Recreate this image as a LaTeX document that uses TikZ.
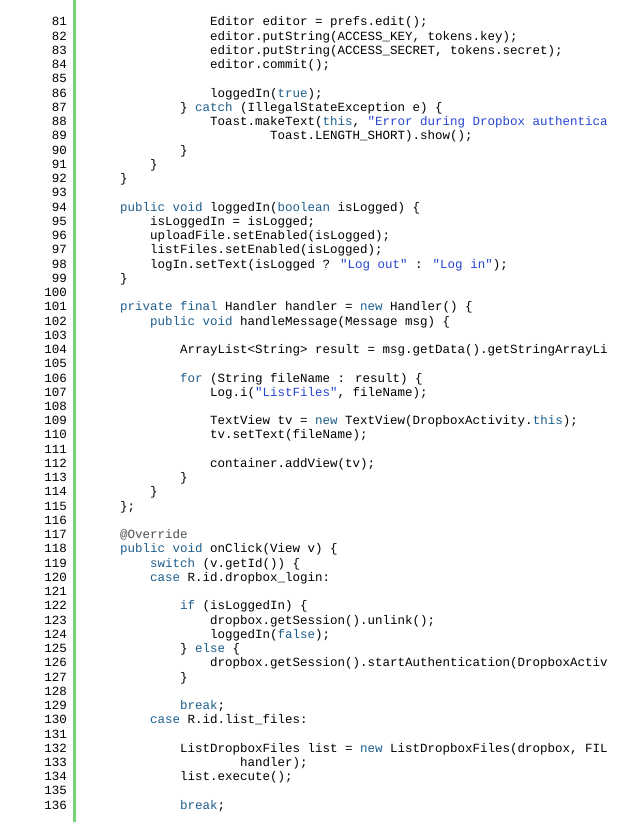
\documentclass[tikz,border=0pt]{standalone}
\usepackage{fontspec}
\newfontfamily\codefont{Liberation Mono}
\definecolor{kwc}{RGB}{30,95,140}
\definecolor{stc}{RGB}{40,70,210}
\definecolor{barc}{RGB}{120,210,120}
\definecolor{anc}{RGB}{80,80,80}
\newcommand{\kw}[1]{\textcolor{kwc}{#1}}
\newcommand{\st}[1]{\textcolor{stc}{#1}}
\tikzset{codeline/.style={anchor=base west,inner sep=0pt,font=\codefont\fontsize{12.5}{14}\selectfont},
  numline/.style={anchor=base east,inner sep=0pt,font=\codefont\fontsize{12.5}{14}\selectfont}}
\newcommand{\cl}[3]{\node[codeline] (c#1) at ({60+#2*7.5},{26+(#1-81)*14.24}) {#3};}
\begin{document}
\begin{tikzpicture}[x=1pt,y=-1pt]
\useasboundingbox (0,0) rectangle (638,826);
\clip (0,0) rectangle (638,826);
\fill[white] (0,0) rectangle (638,826);
\fill[barc] (73,0) rectangle (76,822);
\foreach \n in {81,...,136} {\node[numline] (n\n) at (67,{26+(\n-81)*14.24}) {\n};}
\cl{81}{20}{Editor editor = prefs.edit();}
\cl{82}{20}{editor.putString(ACCESS\_KEY, tokens.key);}
\cl{83}{20}{editor.putString(ACCESS\_SECRET, tokens.secret);}
\cl{84}{20}{editor.commit();}
\cl{86}{20}{loggedIn(\kw{true});}
\cl{87}{16}{\} \kw{catch} (IllegalStateException e) \{}
\cl{88}{20}{Toast.makeText(\kw{this}, \st{"Error during Dropbox authentica}}
\cl{89}{28}{Toast.LENGTH\_SHORT).show();}
\cl{90}{16}{\}}
\cl{91}{12}{\}}
\cl{92}{8}{\}}
\cl{94}{8}{\kw{public} \kw{void} loggedIn(\kw{boolean} isLogged) \{}
\cl{95}{12}{isLoggedIn = isLogged;}
\cl{96}{12}{uploadFile.setEnabled(isLogged);}
\cl{97}{12}{listFiles.setEnabled(isLogged);}
\cl{98}{12}{logIn.setText(isLogged ? \st{"Log out"} : \st{"Log in"});}
\cl{99}{8}{\}}
\cl{101}{8}{\kw{private} \kw{final} Handler handler = \kw{new} Handler() \{}
\cl{102}{12}{\kw{public} \kw{void} handleMessage(Message msg) \{}
\cl{104}{16}{ArrayList<String> result = msg.getData().getStringArrayLi}
\cl{106}{16}{\kw{for} (String fileName : result) \{}
\cl{107}{20}{Log.i(\st{"ListFiles"}, fileName);}
\cl{109}{20}{TextView tv = \kw{new} TextView(DropboxActivity.\kw{this});}
\cl{110}{20}{tv.setText(fileName);}
\cl{112}{20}{container.addView(tv);}
\cl{113}{16}{\}}
\cl{114}{12}{\}}
\cl{115}{8}{\};}
\cl{117}{8}{\textcolor{anc}{@Override}}
\cl{118}{8}{\kw{public} \kw{void} onClick(View v) \{}
\cl{119}{12}{\kw{switch} (v.getId()) \{}
\cl{120}{12}{\kw{case} R.id.dropbox\_login:}
\cl{122}{16}{\kw{if} (isLoggedIn) \{}
\cl{123}{20}{dropbox.getSession().unlink();}
\cl{124}{20}{loggedIn(\kw{false});}
\cl{125}{16}{\} \kw{else} \{}
\cl{126}{20}{dropbox.getSession().startAuthentication(DropboxActiv}
\cl{127}{16}{\}}
\cl{129}{16}{\kw{break};}
\cl{130}{12}{\kw{case} R.id.list\_files:}
\cl{132}{16}{ListDropboxFiles list = \kw{new} ListDropboxFiles(dropbox, FIL}
\cl{133}{24}{handler);}
\cl{134}{16}{list.execute();}
\cl{136}{16}{\kw{break};}
\end{tikzpicture}
\end{document}
